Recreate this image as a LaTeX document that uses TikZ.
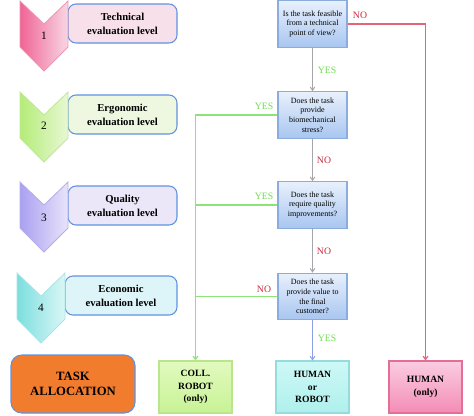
\documentclass[tikz,border=0pt]{standalone}
\usepackage{fontspec}
\setmainfont{Liberation Serif}
\usetikzlibrary{arrows.meta}

\definecolor{lvlblue}{RGB}{96,146,222}
\definecolor{qborder}{RGB}{140,172,222}
\definecolor{qtop}{RGB}{232,240,252}
\definecolor{qbottom}{RGB}{168,198,240}
\definecolor{yesgreen}{RGB}{110,220,80}
\definecolor{nored}{RGB}{200,40,60}
\definecolor{linegreen}{RGB}{140,228,120}
\definecolor{linered}{RGB}{228,100,120}
\definecolor{linegray}{RGB}{165,165,170}
\definecolor{lineblue}{RGB}{140,160,225}

\tikzset{
  levelbox/.style={draw=lvlblue, line width=0.8pt, rounded corners=6pt, minimum width=81.75pt, minimum height=29.25pt, inner sep=1pt, align=center, font=\fontsize{8}{10.5}\selectfont\bfseries},
  chevron/.style={line width=0.6pt},
  numtext/.style={font=\fontsize{8.5}{10}\selectfont},
  qbox/.style={draw=qborder, line width=0.8pt, top color=qtop, bottom color=qbottom, minimum width=51.75pt, minimum height=35pt, inner sep=1pt, align=center, font=\fontsize{6}{7.2}\selectfont},
  outbox/.style={line width=0.8pt, minimum width=54.75pt, minimum height=39pt, inner sep=1pt, align=center, font=\fontsize{7.2}{9.6}\selectfont\bfseries},
  yestext/.style={text=yesgreen, font=\fontsize{7.3}{8}\selectfont},
  notext/.style={text=nored, font=\fontsize{7.3}{8}\selectfont},
  arrowtip/.style={-{Straight Barb[length=2.5pt,width=3.5pt]}},
}

\begin{document}
\begin{tikzpicture}[x=0.75pt,y=0.75pt,yscale=-1,xscale=1]
\useasboundingbox (0,0) rectangle (474,415);

%Shape: Rounded Rect [levels]
\node [levelbox, fill={rgb,255:red,247;green,224;blue,234}] (tech) at (122.5,23.5) {Technical\\evaluation level};
\node [levelbox, fill={rgb,255:red,238;green,248;blue,224}] (ergo) at (122.5,114.5) {Ergonomic\\evaluation level};
\node [levelbox, fill={rgb,255:red,235;green,230;blue,248}] (qual) at (122.5,205.5) {Quality\\evaluation level};
\node [levelbox, fill={rgb,255:red,221;green,245;blue,248}, minimum width=84pt] (econ) at (121,295.5) {Economic\\evaluation level};

%Shape: Chevron [id:1]
\draw [chevron, draw={rgb,255:red,235;green,150;blue,180}, left color={rgb,255:red,240;green,100;blue,150}, right color={rgb,255:red,248;green,215;blue,228}] (20,1) -- (44,24) -- (68,1) -- (68,47) -- (44,71) -- (20,47) -- cycle ;
%Shape: Chevron [id:2]
\draw [chevron, draw={rgb,255:red,190;green,232;blue,150}, left color={rgb,255:red,180;green,236;blue,120}, right color={rgb,255:red,232;green,248;blue,212}] (20,92) -- (44,115) -- (68,92) -- (68,138) -- (44,162) -- (20,138) -- cycle ;
%Shape: Chevron [id:3]
\draw [chevron, draw={rgb,255:red,180;green,172;blue,235}, left color={rgb,255:red,170;green,160;blue,240}, right color={rgb,255:red,232;green,228;blue,250}] (20,182) -- (44,205) -- (68,182) -- (68,228) -- (44,252) -- (20,228) -- cycle ;
%Shape: Chevron [id:4]
\draw [chevron, draw={rgb,255:red,165;green,230;blue,232}, left color={rgb,255:red,125;green,222;blue,222}, right color={rgb,255:red,218;green,246;blue,246}] (17,273) -- (41,296) -- (65,273) -- (65,319) -- (41,343) -- (17,319) -- cycle ;

% Text Node
\node [numtext] (num1) at (44,36) {1};
\node [numtext] (num2) at (44,126) {2};
\node [numtext] (num3) at (44,218) {3};
\node [numtext] (num4) at (41,308) {4};

%Shape: Rect [questions]
\node [qbox] (feas) at (312.5,24) {Is the task feasible\\from a technical\\point of view?};
\node [qbox] (stress) at (312.5,115) {Does the task\\provide\\biomechanical\\stress?};
\node [qbox] (improv) at (312.5,205) {Does the task\\require quality\\improvements?};
\node [qbox] (value) at (312.5,296.5) {Does the task\\provide value to\\the final\\customer?};

%Shape: Rect [allocation]
\node [outbox, draw=lvlblue, fill={rgb,255:red,242;green,124;blue,46}, rounded corners=8pt, minimum width=93pt, minimum height=43.5pt, font=\fontsize{9.5}{11.5}\selectfont\bfseries] (alloc) at (73,384) {TASK\\ALLOCATION};
\node [outbox, draw={rgb,255:red,185;green,230;blue,140}, top color={rgb,255:red,225;green,250;blue,190}, bottom color={rgb,255:red,200;green,242;blue,150}] (coll) at (195.5,387) {COLL.\\ROBOT\\(only)};
\node [outbox, draw={rgb,255:red,150;green,220;blue,222}, top color={rgb,255:red,205;green,248;blue,246}, bottom color={rgb,255:red,175;green,240;blue,236}] (either) at (312.5,387) {HUMAN\\or\\ROBOT};
\node [outbox, draw={rgb,255:red,228;green,110;blue,150}, top color={rgb,255:red,250;green,205;blue,225}, bottom color={rgb,255:red,244;green,140;blue,182}] (human) at (425.5,387) {HUMAN\\(only)};

%Straight Lines
\draw [arrowtip, color=linegray, line width=0.75pt] (feas.south) -- (stress.north) ;
\draw [arrowtip, color=linegray, line width=0.75pt] (stress.south) -- (improv.north) ;
\draw [arrowtip, color=linegray, line width=0.75pt] (improv.south) -- (value.north) ;
\draw [arrowtip, color=lineblue, line width=0.75pt] (value.south) -- (either.north) ;
\draw [arrowtip, color=linered, line width=0.9pt] (feas.east) -- (human.north |- feas.east) -- (human.north) ;
\draw [arrowtip, color=linegreen, line width=0.9pt] (stress.west) -- (coll.north |- stress.west) -- (coll.north) ;
\draw [color=linegreen, line width=0.9pt] (improv.west) -- (coll.north |- improv.west) ;
\draw [color=linegreen, line width=0.9pt] (value.west) -- (coll.north |- value.west) ;

% Text Node
\node [notext] (no1) at (360,15) {NO};
\node [yestext] (yes1) at (327,70) {YES};
\node [yestext] (yes2) at (264,106) {YES};
\node [notext] (no2) at (324,160) {NO};
\node [yestext] (yes3) at (264,196) {YES};
\node [notext] (no3) at (324,251) {NO};
\node [notext] (no4) at (264,289) {NO};
\node [yestext] (yes4) at (327,338) {YES};

\end{tikzpicture}
\end{document}
